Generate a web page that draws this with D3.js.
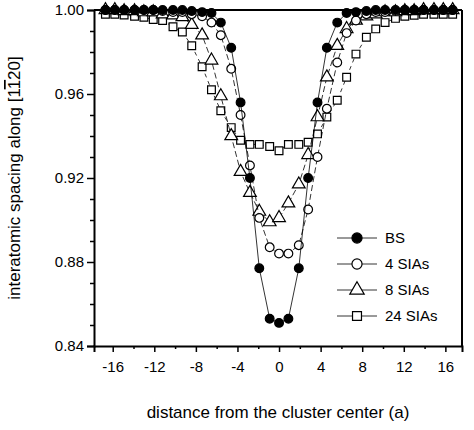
<!DOCTYPE html>
<html><head><meta charset="utf-8">
<script src="https://cdn.jsdelivr.net/npm/d3@7"></script>
<style>body{margin:0;background:#fff}text{font-family:"Liberation Sans",Arial,sans-serif}</style>
</head><body><svg id="chart"></svg>
<script>
const xTicks = [-16, -12, -8, -4, 0, 4, 8, 12, 16];
const yTicks = [0.84, 0.88, 0.92, 0.96, 1.00];
const seriesNames = ["BS", "4 SIAs", "8 SIAs", "24 SIAs"];

const siteX = [-16.7,-15.8,-14.9,-13.9,-13.0,-12.1,-11.2,-10.2,-9.3,-8.4,-7.4,-6.5,-5.6,-4.6,-3.7,-2.8,-1.9,-0.9,0,0.9,1.9,2.8,3.7,4.6,5.6,6.5,7.4,8.4,9.3,10.2,11.2,12.1,13.0,13.9,14.9,15.8,16.7];
const bsY  = [1,1,1,1,1,1,1,1,1,0.9995,0.999,0.9986,0.994,0.982,0.956,0.920,0.877,0.853,0.851,0.853,0.877,0.920,0.956,0.982,0.994,0.9986,0.999,0.9995,1,1,1,1,1,1,1,1,1];
const s4Y  = [1,1,1,1,1,1,0.9995,0.999,0.999,0.998,0.997,0.994,0.988,0.972,0.950,0.926,0.901,0.887,0.884,0.884,0.888,0.905,0.930,0.953,0.975,0.989,0.995,0.998,0.999,0.999,0.9995,1,1,1,1,1,1];
const s8Y  = [1,1,0.9995,0.9995,0.999,0.999,0.998,0.9975,0.9967,0.993,0.988,0.976,0.959,0.940,0.923,0.913,0.904,0.899,0.901,0.908,0.917,0.931,0.949,0.968,0.983,0.991,0.995,0.997,0.998,0.999,0.999,0.9995,0.9995,1,1,1,1];
const s24Y = [0.998,0.998,0.9976,0.997,0.9965,0.9955,0.995,0.992,0.9895,0.983,0.973,0.962,0.952,0.944,0.938,0.936,0.936,0.935,0.933,0.936,0.936,0.937,0.941,0.949,0.957,0.968,0.979,0.987,0.991,0.994,0.996,0.997,0.9975,0.998,0.998,0.998,0.998];

const W = 474, H = 430;
const m = {top: 10, right: 12, bottom: 84, left: 94};
const svg = d3.select("#chart").attr("width", W).attr("height", H);
const x = d3.scaleLinear().domain([-17.8, 17.6]).range([m.left, W - m.right]);
const y = d3.scaleLinear().domain([0.84, 1.0]).range([H - m.bottom, m.top]);

const series = [
  {name: seriesNames[0], ys: bsY, sym: d3.symbolCircle, fill: "#000", dash: null},
  {name: seriesNames[1], ys: s4Y, sym: d3.symbolCircle, fill: "#fff", dash: "6,3"},
  {name: seriesNames[2], ys: s8Y, sym: d3.symbolTriangle, fill: "#fff", dash: "6,3"},
  {name: seriesNames[3], ys: s24Y, sym: d3.symbolSquare, fill: "#fff", dash: "4,4"}
];

// axes
svg.append("g").attr("transform", `translate(0,${H - m.bottom})`)
  .call(d3.axisBottom(x).tickValues(xTicks).tickSize(6).tickFormat(d => String(d)))
  .call(g => g.selectAll("text").attr("font-size", 15).attr("dy", "1.1em"));
svg.append("g").attr("transform", `translate(0,${H - m.bottom})`)
  .call(d3.axisBottom(x).tickValues([-14, -10, -6, -2, 2, 6, 10, 14]).tickSize(3).tickFormat(""))
  .call(g => g.select(".domain").remove());
svg.append("g").attr("transform", `translate(${m.left},0)`)
  .call(d3.axisLeft(y).tickValues(yTicks).tickSize(7).tickFormat(d3.format(".2f")))
  .call(g => g.selectAll("text").attr("font-size", 15));
svg.append("g").attr("transform", `translate(${m.left},0)`)
  .call(d3.axisLeft(y).tickValues(d3.range(0.85, 1.0, 0.01).filter((v, i) => (i + 1) % 4 !== 0)).tickSize(4).tickFormat(""))
  .call(g => g.select(".domain").remove());
svg.selectAll(".domain").attr("stroke-width", 2);
svg.selectAll(".tick line").attr("stroke-width", 1.5);
svg.append("line").attr("x1", m.left).attr("x2", W - m.right).attr("y1", m.top).attr("y2", m.top)
  .attr("stroke", "#000").attr("stroke-width", 2);
svg.append("line").attr("x1", W - m.right).attr("x2", W - m.right).attr("y1", m.top).attr("y2", H - m.bottom)
  .attr("stroke", "#000").attr("stroke-width", 2);

// series
const line = d3.line().x(d => x(d[0])).y(d => y(d[1]));
series.slice().reverse().forEach(s => {
  const pts = siteX.map((v, i) => [v, s.ys[i]]);
  svg.append("path").datum(pts).attr("d", line).attr("fill", "none")
    .attr("stroke", "#000").attr("stroke-width", 0.8).attr("stroke-dasharray", s.dash);
  svg.selectAll(null).data(pts).enter().append("path")
    .attr("d", d3.symbol().type(s.sym).size(s.sym === d3.symbolTriangle ? 70 : 60))
    .attr("transform", d => `translate(${x(d[0])},${y(d[1])})`)
    .attr("fill", s.fill).attr("stroke", "#000").attr("stroke-width", 1.2);
});

// legend
const lg = svg.append("g").attr("transform", "translate(337,238)");
series.forEach((s, i) => {
  const g = lg.append("g").attr("transform", `translate(0,${i * 26})`);
  g.append("line").attr("x1", 0).attr("x2", 40).attr("stroke", "#000").attr("stroke-width", 0.8);
  g.append("path").attr("d", d3.symbol().type(s.sym).size(s.sym === d3.symbolTriangle ? 90 : 80))
    .attr("transform", "translate(20,0)").attr("fill", s.fill).attr("stroke", "#000").attr("stroke-width", 1.2);
  g.append("text").attr("x", 48).attr("dy", "0.35em").attr("font-size", 15).text(s.name);
});

// axis titles
svg.append("text").attr("x", (m.left + W - m.right) / 2).attr("y", 418).attr("text-anchor", "middle")
  .attr("font-size", 17).text("distance from the cluster center (a)");
const yt = svg.append("text").attr("transform", `translate(20,${(m.top + H - m.bottom) / 2}) rotate(-90)`)
  .attr("text-anchor", "middle").attr("font-size", 17);
yt.append("tspan").text("interatomic spacing along [1");
yt.append("tspan").attr("text-decoration", "overline").text("1");
yt.append("tspan").text("20]");
</script></body></html>
